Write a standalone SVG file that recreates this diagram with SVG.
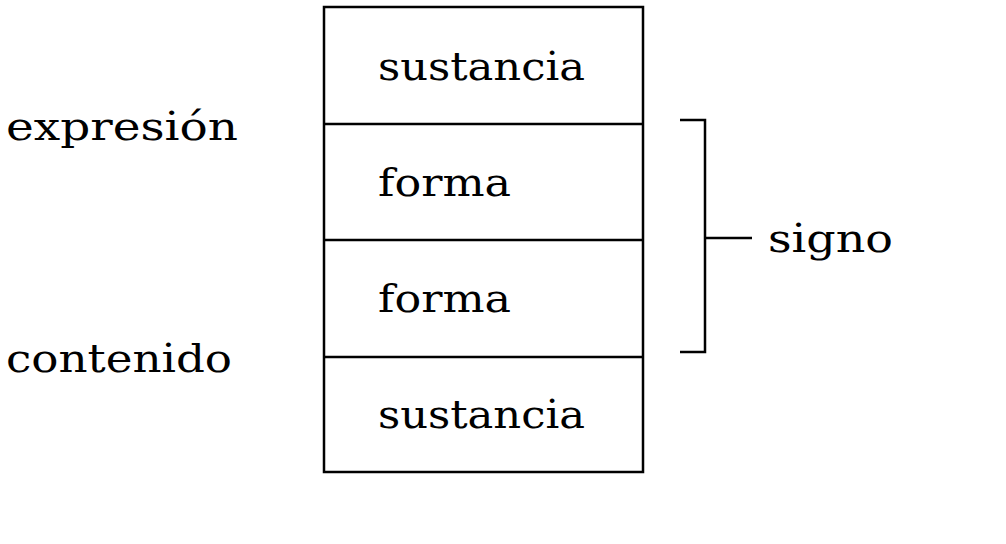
<svg xmlns="http://www.w3.org/2000/svg" width="1006" height="544" viewBox="0 0 1006 544">
<style>
text{font-family:"DejaVu Serif","Liberation Serif",serif;font-size:40px;fill:#000}
.l{stroke:#000;stroke-width:2.5;fill:none}
</style>
<rect width="1006" height="544" fill="#fff"/>
<g id="box">
<rect class="l" x="324" y="7" width="319" height="465"/>
</g>
<g id="connectors">
<line class="l" x1="324" y1="124" x2="643" y2="124"/>
<line class="l" x1="324" y1="240" x2="643" y2="240"/>
<line class="l" x1="324" y1="357" x2="643" y2="357"/>
<path class="l" d="M680 120H705V352H680M705 238H752"/>
</g>
<g id="n1"><text x="378" y="80" textLength="207" lengthAdjust="spacingAndGlyphs">sustancia</text></g>
<g id="n2"><text x="378" y="196" textLength="133" lengthAdjust="spacingAndGlyphs">forma</text></g>
<g id="n3"><text x="378" y="312" textLength="133" lengthAdjust="spacingAndGlyphs">forma</text></g>
<g id="n4"><text x="378" y="428" textLength="207" lengthAdjust="spacingAndGlyphs">sustancia</text></g>
<g id="expresion"><text x="6" y="140" textLength="232" lengthAdjust="spacingAndGlyphs">expresión</text></g>
<g id="contenido"><text x="6" y="372" textLength="226" lengthAdjust="spacingAndGlyphs">contenido</text></g>
<g id="signo"><text x="768" y="252" textLength="125" lengthAdjust="spacingAndGlyphs">signo</text></g>
</svg>
